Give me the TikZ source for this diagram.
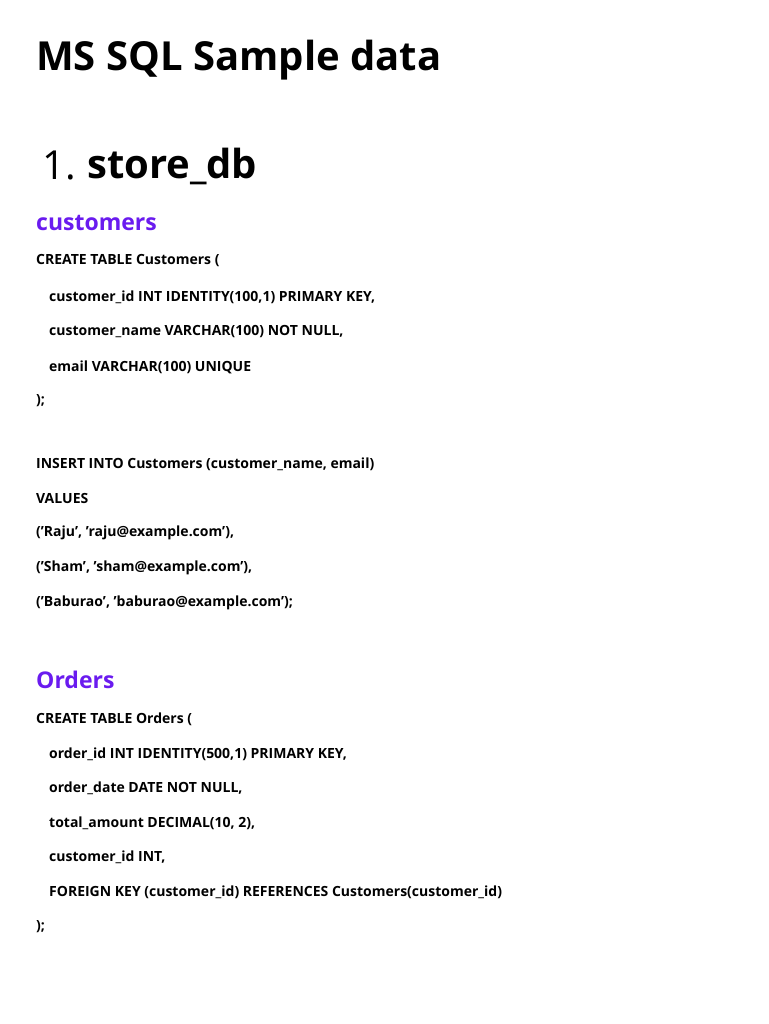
\documentclass[tikz,border=0pt]{standalone}
\usepackage{fontspec}
\setmainfont{Open Sans}
\definecolor{hd}{HTML}{6A1BEF}
\tikzset{code/.style={anchor=west,inner sep=0pt,font=\fontsize{14}{16}\selectfont\bfseries},
hdr/.style={anchor=west,inner sep=0pt,text=hd,font=\fontsize{23}{26}\selectfont\bfseries}}
\begin{document}
\begin{tikzpicture}[x=1pt,y=-1pt]
\useasboundingbox (0,0) rectangle (768,1024);
\node[anchor=west,inner sep=0pt,font=\fontsize{40}{44}\selectfont\bfseries] (title) at (36,60) {MS SQL Sample data};
\node[anchor=west,inner sep=0pt,font=\fontsize{40}{44}\selectfont] (num) at (42,166) {1.};
\node[anchor=west,inner sep=0pt,font=\fontsize{40}{44}\selectfont\bfseries] (db) at (87,166) {store\_db};
\node[hdr] (h1) at (36,223) {customers};
\node[code] (a1) at (36,261) {CREATE TABLE Customers (};
\node[code] (a2) at (49,297) {customer\_id INT IDENTITY(100,1) PRIMARY KEY,};
\node[code] (a3) at (49,332) {customer\_name VARCHAR(100) NOT NULL,};
\node[code] (a4) at (49,367) {email VARCHAR(100) UNIQUE};
\node[code] (a5) at (36,401) {);};
\node[code] (b1) at (36,464) {INSERT INTO Customers (customer\_name, email)};
\node[code] (b2) at (36,498) {VALUES};
\node[code] (b3) at (36,533) {('Raju', 'raju@example.com'),};
\node[code] (b4) at (36,568) {('Sham', 'sham@example.com'),};
\node[code] (b5) at (36,603) {('Baburao', 'baburao@example.com');};
\node[hdr] (h2) at (36,680) {Orders};
\node[code] (c1) at (36,719) {CREATE TABLE Orders (};
\node[code] (c2) at (49,754) {order\_id INT IDENTITY(500,1) PRIMARY KEY,};
\node[code] (c3) at (49,788) {order\_date DATE NOT NULL,};
\node[code] (c4) at (49,823) {total\_amount DECIMAL(10, 2),};
\node[code] (c5) at (49,857) {customer\_id INT,};
\node[code] (c6) at (49,892) {FOREIGN KEY (customer\_id) REFERENCES Customers(customer\_id)};
\node[code] (c7) at (36,927) {);};
\end{tikzpicture}
\end{document}
